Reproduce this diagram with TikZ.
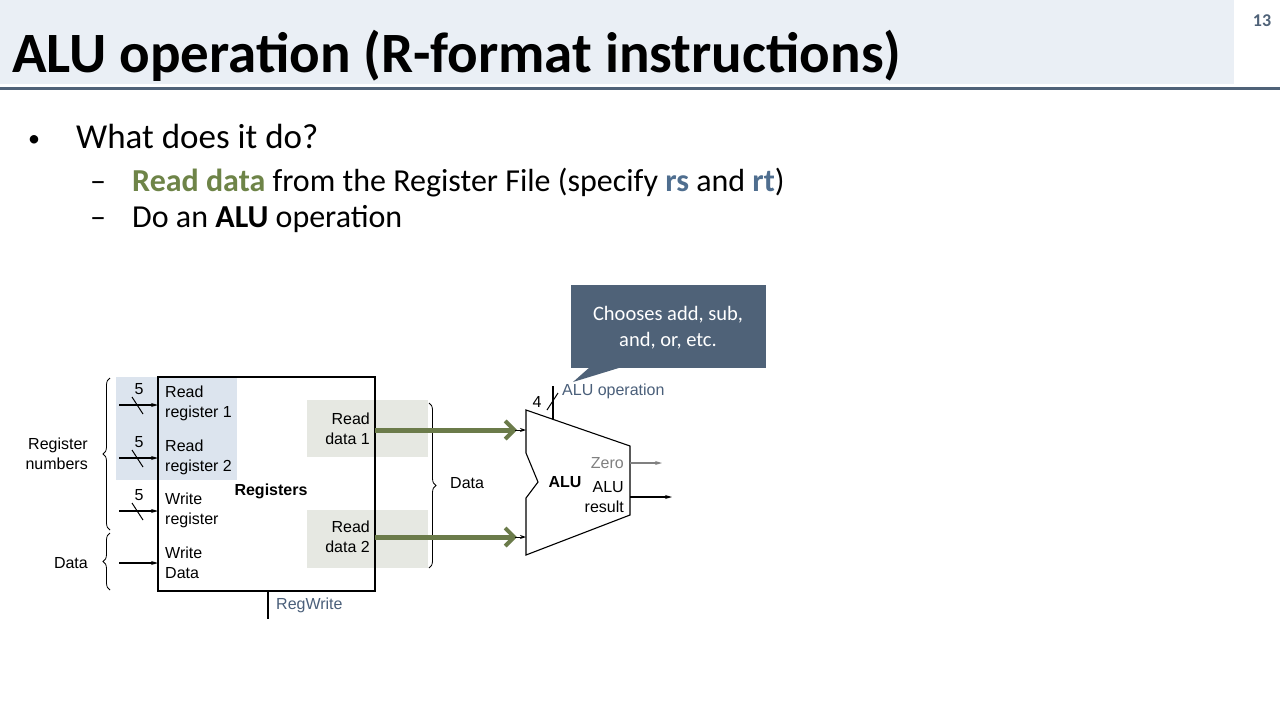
\documentclass[tikz,border=0pt]{standalone}
\usepackage{fontspec}
\setmainfont{Carlito}
\newfontfamily\arialf{Liberation Sans}
\usetikzlibrary{arrows.meta,decorations.pathreplacing}
\definecolor{band}{HTML}{EAEFF5}
\definecolor{slate}{HTML}{4F6278}
\definecolor{bluehl}{HTML}{DCE4EE}
\definecolor{grayhl}{HTML}{E6E8E2}
\definecolor{olive}{HTML}{6B7B4A}
\definecolor{greentxt}{HTML}{6E8448}
\definecolor{rsblue}{HTML}{4F6E8F}
\definecolor{labblue}{HTML}{4A5F7A}
\begin{document}
\begin{tikzpicture}[x=1pt,y=-1pt,
  lab/.style={font=\arialf\fontsize{16}{20}\selectfont,align=left,anchor=west,inner sep=0pt},
  labr/.style={font=\arialf\fontsize{16}{20}\selectfont,align=right,anchor=east,inner sep=0pt},
  sig/.style={-{Stealth[length=7pt,width=4pt]},line width=1.1pt},
  bus/.style={line width=5pt,olive,-{Straight Barb[length=9pt,width=18pt,line width=4pt]}},
  brace/.style={decorate,decoration={brace,amplitude=7pt},line width=0.8pt}]
\useasboundingbox (0,0) rectangle (1280,720);
\fill[white] (0,0) rectangle (1280,720);
% header
\fill[band] (0,0) rectangle (1234,84);
\draw[slate,line width=3pt] (0,88) -- (1280,88);
\node[anchor=base west,inner sep=0pt,font=\fontsize{57}{60}\selectfont\bfseries] (title) at (12,72) {ALU operation (R-format instructions)};
\node[anchor=base,inner sep=0pt,font=\fontsize{18}{20}\selectfont\bfseries,text=slate] (pg) at (1262,27) {13};
% bullets
\node[anchor=base west,inner sep=0pt,font=\fontsize{24}{32}\selectfont] (b1) at (28,146) {•};
\node[anchor=base west,inner sep=0pt,font=\fontsize{35}{38}\selectfont] (b1t) at (76,148) {What does it do?};
\node[anchor=base west,inner sep=0pt,font=\fontsize{32}{34}\selectfont] (d1) at (90,191) {–};
\node[anchor=base west,inner sep=0pt,font=\fontsize{32}{34}\selectfont] (d1t) at (132,191) {\textcolor{greentxt}{\bfseries Read data} from the Register File (specify \textcolor{rsblue}{\bfseries rs} and \textcolor{rsblue}{\bfseries rt})};
\node[anchor=base west,inner sep=0pt,font=\fontsize{32}{34}\selectfont] (d2) at (90,227) {–};
\node[anchor=base west,inner sep=0pt,font=\fontsize{32}{34}\selectfont] (d2t) at (132,227) {Do an \textbf{ALU} operation};
% highlights
\fill[bluehl] (116,377) rectangle (237,480);
\fill[grayhl] (307,400) rectangle (428,457);
\fill[grayhl] (307,510) rectangle (428,568);
% register file
\draw[line width=1.1pt] (158,377) rectangle (375,591);
\node[lab,font=\arialf\bfseries\fontsize{16}{20}\selectfont,anchor=center] (regsl) at (271,491) {Registers};
\node[lab] (rr1) at (165,403) {Read\\register 1};
\node[lab] (rr2) at (165,457) {Read\\register 2};
\node[lab] (wr) at (165,510) {Write\\register};
\node[lab] (wd) at (165,563) {Write\\Data};
\node[labr] (rd1) at (370,429) {Read\\data 1};
\node[labr] (rd2) at (370,537) {Read\\data 2};
\foreach \yy/\nm in {405/a,458/b,511/c}{
  \coordinate (in\nm) at (119,\yy);
  \coordinate (to\nm) at (158,\yy);
  \draw[sig] (in\nm) -- (to\nm);
  \draw[line width=1pt] (132,\yy-8) -- (143,\yy+9);
  \node[lab,anchor=center] at (139,\yy-16) {5};
}
\coordinate (ind) at (119,563); \coordinate (tod) at (158,563);
\draw[sig] (ind) -- (tod);
\draw[brace] (110,530) -- (110,378);
\node[labr] (rn) at (88,454) {Register\\numbers};
\draw[brace] (110,590) -- (110,533);
\node[labr] (dl) at (88,563) {Data};
\draw[brace] (429,403) -- (429,568);
\node[lab] (dr) at (450,483) {Data};
\coordinate (rw0) at (268,591); \coordinate (rw1) at (268,619);
\draw[line width=1.1pt] (rw0) -- (rw1);
\node[lab,text=labblue] (rwl) at (276,605) {RegWrite};
% ALU
\draw[line width=1.1pt] (526,410) -- (630,446) -- (630,515) -- (526,555) -- (526,498) -- (538,482) -- (526,453) -- cycle;
\node[lab,font=\arialf\bfseries\fontsize{16}{20}\selectfont,anchor=center] (alu) at (565,482) {ALU};
\node[labr,text=gray] (zero) at (624,463) {Zero};
\node[labr] (res) at (624,497) {ALU\\result};
\coordinate (z0) at (630,463); \coordinate (z1) at (662,463);
\draw[sig,gray] (z0) -- (z1);
\coordinate (r0) at (630,497); \coordinate (r1) at (672,497);
\draw[sig] (r0) -- (r1);
\coordinate (a1) at (526,430); \coordinate (a2) at (526,537);
\coordinate (s1) at (375,430); \coordinate (s2) at (375,537);
\draw[bus] (s1) -- (517,430);
\draw[bus] (s2) -- (517,537);
\draw[-{Stealth[length=6pt,width=4pt]},line width=1pt] (515,430) -- (a1);
\draw[-{Stealth[length=6pt,width=4pt]},line width=1pt] (515,537) -- (a2);
\coordinate (op0) at (553,386); \coordinate (op1) at (553,419);
\draw[line width=1.1pt] (op0) -- (op1);
\draw[line width=1pt] (547,410) -- (558,393);
\node[lab,anchor=center] (four) at (537,402) {4};
\node[lab,text=labblue] (opl) at (562,391) {ALU operation};
% callout
\fill[slate] (571,285) rectangle (766,368);
\fill[slate] (590,367) -- (622,367) -- (573,382) -- cycle;
\node[align=center,text=white,font=\fontsize{20.5}{26}\selectfont] (call) at (668,328) {Chooses add, sub,\\and, or, etc.};
\end{tikzpicture}
\end{document}
